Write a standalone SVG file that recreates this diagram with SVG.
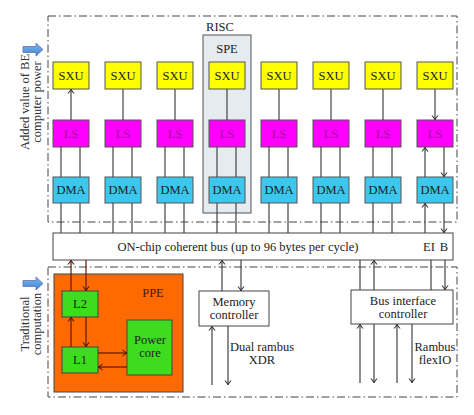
<svg xmlns="http://www.w3.org/2000/svg" width="474" height="415" viewBox="0 0 474 415" font-family="Liberation Serif, Times New Roman, serif">
<style>
text{font-family:"Liberation Serif","Times New Roman",serif;font-size:12.5px;fill:#222;text-anchor:middle}
.zone{fill:none;stroke:#444;stroke-width:1;stroke-dasharray:8,3,1.5,3}
.sxu{fill:#ffff00;stroke:#555;stroke-width:1}
.ls{fill:#ff00ff;stroke:#555;stroke-width:1}
.dma{fill:#3cc8ee;stroke:#555;stroke-width:1}
.box{fill:#fff;stroke:#444;stroke-width:1}
.grn{fill:#3ddc1e;stroke:#444;stroke-width:1}
.c{stroke:#444;stroke-width:1.2;fill:none;marker-end:url(#ah)}
.d{stroke:#444;stroke-width:1.2;fill:none;marker-end:url(#ah);marker-start:url(#ah)}
.p{stroke:#5a1a00;stroke-width:1.2;fill:none;marker-end:url(#ahp)}
.lt{fill:#a0109a}
.side{font-size:12.5px;fill:#333}
</style>
<defs>
<marker id="ah" viewBox="0 0 8 8" refX="7.6" refY="4" markerWidth="8" markerHeight="8" markerUnits="userSpaceOnUse" orient="auto-start-reverse">
<path d="M3,0.4 L7.8,4 L3,7.6 L3,6.4 L6.2,4 L3,1.6 Z" fill="#333"/>
</marker>
<marker id="ahp" viewBox="0 0 8 8" refX="7.6" refY="4" markerWidth="8" markerHeight="8" markerUnits="userSpaceOnUse" orient="auto-start-reverse">
<path d="M3,0.4 L7.8,4 L3,7.6 L3,6.4 L6.2,4 L3,1.6 Z" fill="#4a1500"/>
</marker>
<linearGradient id="bl" x1="0" y1="0" x2="0" y2="1">
<stop offset="0" stop-color="#7fb8ee"/><stop offset="1" stop-color="#3a86d6"/>
</linearGradient>
<path id="barrow" d="M0,2.5 H13 V-1 L20,5.5 L13,12 V8.5 H0 Z" fill="url(#bl)" stroke="#6b6fa8" stroke-width="0.8"/>
</defs>

<g id="zones">
<rect class="zone" x="48" y="16" width="409" height="206"/>
<rect class="zone" x="48" y="267" width="409" height="130"/>
</g>

<g id="side-labels">
<use href="#barrow" x="23" y="44"/>
<use href="#barrow" x="23" y="278"/>
<text class="side" transform="translate(29,102) rotate(-90)">Added value of BE</text>
<text class="side" transform="translate(41,102) rotate(-90)">computer power</text>
<text class="side" transform="translate(29,324) rotate(-90)">Traditional</text>
<text class="side" transform="translate(41,324) rotate(-90)">computation</text>
</g>

<g id="spe">
<rect x="203" y="35" width="48" height="178" fill="#e5ebee" stroke="#555" stroke-width="1"/>
<text x="220" y="31">RISC</text>
<text x="227" y="53">SPE</text>
</g>

<g id="spu-col1"><rect class="sxu" x="53" y="62" width="36" height="27"/><text x="71" y="80">SXU</text><rect class="ls" x="53" y="120" width="36" height="27"/><text class="lt" x="71" y="138">LS</text><rect class="dma" x="53" y="177" width="36" height="26"/><text x="71" y="194">DMA</text></g>
<g id="spu-col2"><rect class="sxu" x="105" y="62" width="36" height="27"/><text x="123" y="80">SXU</text><rect class="ls" x="105" y="120" width="36" height="27"/><text class="lt" x="123" y="138">LS</text><rect class="dma" x="105" y="177" width="36" height="26"/><text x="123" y="194">DMA</text></g>
<g id="spu-col3"><rect class="sxu" x="157" y="62" width="36" height="27"/><text x="175" y="80">SXU</text><rect class="ls" x="157" y="120" width="36" height="27"/><text class="lt" x="175" y="138">LS</text><rect class="dma" x="157" y="177" width="36" height="26"/><text x="175" y="194">DMA</text></g>
<g id="spu-col4"><rect class="sxu" x="209" y="62" width="36" height="27"/><text x="227" y="80">SXU</text><rect class="ls" x="209" y="120" width="36" height="27"/><text class="lt" x="227" y="138">LS</text><rect class="dma" x="209" y="177" width="36" height="26"/><text x="227" y="194">DMA</text></g>
<g id="spu-col5"><rect class="sxu" x="261" y="62" width="36" height="27"/><text x="279" y="80">SXU</text><rect class="ls" x="261" y="120" width="36" height="27"/><text class="lt" x="279" y="138">LS</text><rect class="dma" x="261" y="177" width="36" height="26"/><text x="279" y="194">DMA</text></g>
<g id="spu-col6"><rect class="sxu" x="313" y="62" width="36" height="27"/><text x="331" y="80">SXU</text><rect class="ls" x="313" y="120" width="36" height="27"/><text class="lt" x="331" y="138">LS</text><rect class="dma" x="313" y="177" width="36" height="26"/><text x="331" y="194">DMA</text></g>
<g id="spu-col7"><rect class="sxu" x="365" y="62" width="36" height="27"/><text x="383" y="80">SXU</text><rect class="ls" x="365" y="120" width="36" height="27"/><text class="lt" x="383" y="138">LS</text><rect class="dma" x="365" y="177" width="36" height="26"/><text x="383" y="194">DMA</text></g>
<g id="spu-col8"><rect class="sxu" x="417" y="62" width="36" height="27"/><text x="435" y="80">SXU</text><rect class="ls" x="417" y="120" width="36" height="27"/><text class="lt" x="435" y="138">LS</text><rect class="dma" x="417" y="177" width="36" height="26"/><text x="435" y="194">DMA</text></g>

<g id="bus">
<rect class="box" x="53" y="233" width="400" height="27"/>
<text x="238" y="251">ON-chip coherent bus (up to 96 bytes per cycle)</text>
<text x="429" y="251">EI</text>
<text x="444" y="251">B</text>
</g>

<g id="ppe">
<rect x="54" y="274" width="129" height="118" fill="#ff6a00" stroke="#444" stroke-width="1"/>
<text x="153" y="297" style="fill:#4a1500">PPE</text>
<rect class="grn" x="62" y="291" width="36" height="26"/><text x="80" y="308">L2</text>
<rect class="grn" x="62" y="347" width="36" height="26"/><text x="80" y="364">L1</text>
<rect class="grn" x="127" y="320" width="45" height="55"/><text x="150" y="344">Power</text><text x="150" y="357">core</text>
</g>

<g id="memory-controller">
<rect class="box" x="199" y="291" width="70" height="35"/>
<text x="234" y="306">Memory</text>
<text x="234" y="319">controller</text>
<text x="262" y="351">Dual rambus</text>
<text x="262" y="364">XDR</text>
</g>

<g id="bus-interface-controller">
<rect class="box" x="351" y="290" width="102" height="34"/>
<text x="403" y="305">Bus interface</text>
<text x="403" y="318">controller</text>
<text x="435" y="351">Rambus</text>
<text x="435" y="364">flexIO</text>
</g>

<g id="connectors">
<path class="d" d="M71,89V120M123,89V120M175,89V120M227,89V120M279,89V120M331,89V120M383,89V120M435,89V120"/>
<path class="c" d="M61,177V147M113,177V147M165,177V147M217,177V147M269,177V147M321,177V147M373,177V147M425,177V147"/>
<path class="c" d="M80,147V177M132,147V177M184,147V177M236,147V177M288,147V177M340,147V177M392,147V177M444,147V177"/>
<path class="c" d="M61,233V203M113,233V203M165,233V203M217,233V203M269,233V203M321,233V203M373,233V203M425,233V203"/>
<path class="c" d="M80,203V233M132,203V233M184,203V233M236,203V233M288,203V233M340,203V233M392,203V233M444,203V233"/>
<path class="p" d="M71,291V260"/>
<path class="p" d="M86,260V291"/>
<path class="p" d="M71,347V317"/>
<path class="p" d="M86,317V347"/>
<path class="p" d="M98,353H127"/>
<path class="p" d="M127,367H98"/>
<path class="c" d="M222,291V260"/>
<path class="c" d="M241,260V291"/>
<path class="d" d="M212,326V385M228,326V385"/>
<path class="c" d="M360,290V260M374,290V260"/>
<path class="c" d="M431,260V290M445,260V290"/>
<path class="c" d="M360,383V324"/>
<path class="c" d="M374,324V383"/>
<path class="c" d="M397,383V324"/>
<path class="c" d="M412,324V383"/>
</g>
</svg>
